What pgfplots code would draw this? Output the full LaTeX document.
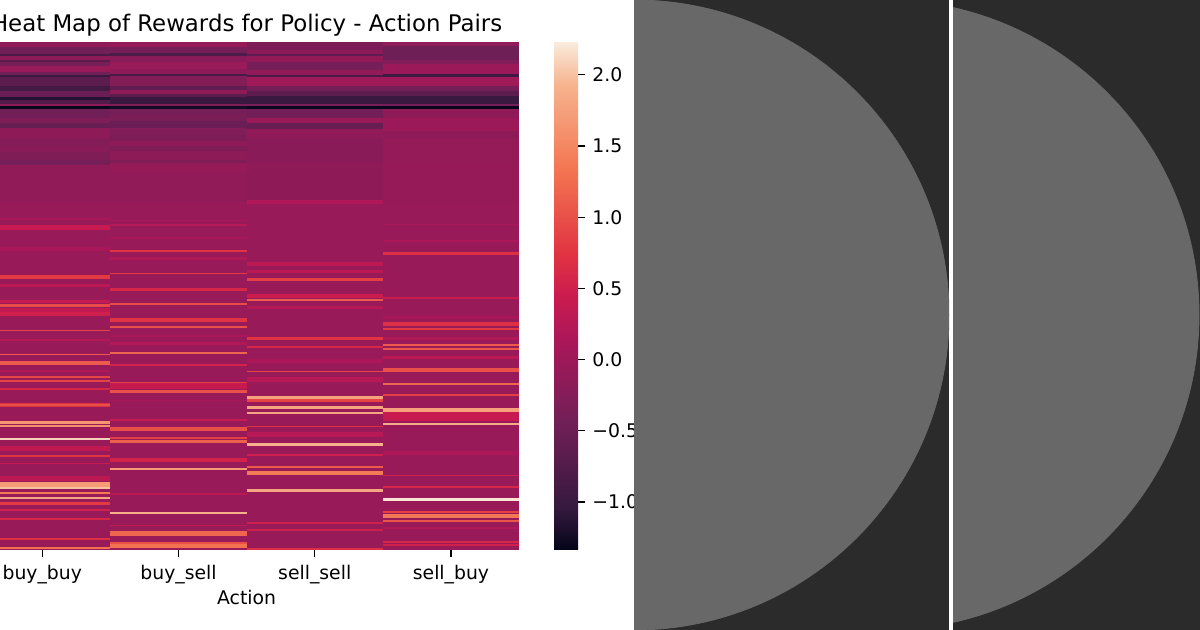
\documentclass[border=0pt]{standalone}
\usepackage{pgfplots}
\usepackage{pgfplotstable}
\usepackage{fontspec}
\setmainfont{DejaVu Sans}
\pgfplotsset{compat=1.18}
\definecolor{panel}{HTML}{2B2B2B}
\definecolor{disc}{HTML}{686868}
\pgfplotsset{
  colormap={rocket}{
    rgb255(0pt)=(3,5,26)
    rgb255(83pt)=(53,25,62)
    rgb255(250pt)=(112,31,87)
    rgb255(417pt)=(173,23,89)
    rgb255(500pt)=(203,27,79)
    rgb255(583pt)=(225,51,66)
    rgb255(750pt)=(243,118,81)
    rgb255(917pt)=(246,180,143)
    rgb255(1000pt)=(250,235,221)
  },
  bands/.style={
    scatter, only marks, mark=-, mark size=34.1pt, scatter src=explicit,
    visualization depends on={(\thisrow{y1}-\thisrow{y0}+0.1)*0.5\as\hh},
    scatter/@pre marker code/.code={%
      \pgfplotscolormapdefinemappedcolor{\pgfplotspointmetatransformed}%
      \scope
      \pgfsetstrokecolor{mapped color}%
      \pgfsetlinewidth{\hh pt}%
    },
    scatter/@post marker code/.code={\endscope}
  },
  panelaxis/.style={
    anchor=south west, scale only axis, hide axis, height=315pt,
    ymin=0, ymax=630
  }
}
\pgfplotstableread{
y0 y1 v
42 550 -0.05
42 47.5 -0.1
47.5 53.6 -0.45
53.6 55.7 -0.8
55.7 60.4 -0.15
60.4 62.4 -0.65
62.4 66.5 -0.4
66.5 72 -0.05
72 75 -0.45
75 77 -1.0
77 86 -0.65
86 91.5 -0.9
91.5 97 -0.5
97 100 -1.15
100 103.6 -0.75
103.6 105.7 -0.15
105.7 109 -1.3
109 118.5 -0.45
118.5 123 -0.3
123 128 -0.55
128 138 -0.15
138 146.5 -0.25
146.5 151.6 -0.2
151.6 160 -0.3
160 165 -0.4
165 202 -0.12
217.6 219.6 0.12
225.3 230.4 0.4
247 250.7 0.12
275 279 0.8
283.8 287 0.3
300 303.4 0.4
304.4 306.8 0.95
308 312 0.35
312 316 0.5
329.7 331.4 0.9
339 341 0.22
353.7 355.4 1.1
361.5 365 1.1
370 372 0.2
375.7 377.8 0.9
380 382 0.9
388 390 0.6
402.8 404 0.7
404 406.5 1.0
406.5 407 0.7
420.7 424 1.65
425 426.8 1.6
437.6 440.2 2.1
446 451 0.35
455 457 0.75
463 464.3 0.4
476.4 480.8 0.3
481.8 486.5 1.7
487.5 489.3 2.0
492 493.7 1.4
496.7 499 1.8
501.8 504.5 0.8
509.5 511 0.5
518 519.7 0.6
538 540 0.7
547.4 549 1.3
}\colA
\pgfplotstableread{
y0 y1 v
42 550 -0.05
42 47.5 -0.08
47.5 53 -0.4
53 55.7 -0.8
55.7 62.4 -0.2
62.4 69 -0.05
69 74 -0.15
74 76 -0.85
76 86 -0.25
86 90 -0.6
90 94 -0.15
94 97 -0.65
97 103.6 -1.0
103.6 105.7 -0.3
105.7 109.4 -1.25
109.4 114.5 -0.4
114.5 121 -0.35
121 128 -0.5
128 135 -0.28
135 141.5 -0.32
141.5 146.5 -0.15
146.5 151.5 -0.3
151.5 160 -0.17
160 163.5 -0.3
163.5 172 -0.07
172 202 -0.12
220 221 0.12
223.6 225.7 0.25
237 239 0.12
249.7 252 0.75
257 260 0.2
272.6 274.3 0.8
288 291 0.6
303 305 0.95
318 321.6 0.75
325.7 328.4 1.0
335 337 0.15
342 344.6 0.2
352 353.7 1.2
364.5 366 0.55
381.8 383.5 0.85
383.5 388.6 0.4
390.3 393 1.0
399.7 401.4 0.15
419 420.7 0.4
427.4 430.5 1.0
437 439 0.85
440.3 443 1.15
458 462 0.55
468 470 1.7
493.3 495.3 0.3
512 514 1.9
524.7 526.4 0.35
530.8 536.2 1.2
541.6 543.7 1.0
544.3 547.7 1.3
}\colB
\pgfplotstableread{
y0 y1 v
42 550 -0.05
42 50 -0.32
50 53.6 -0.18
53.6 56.4 -0.6
56.4 62 -0.1
62 70 -0.4
70 74.6 -0.12
74.6 76.6 -0.85
76.6 86 0.02
86 91 -0.4
91 96 -0.65
96 103.6 -1.0
103.6 105.7 -0.35
105.7 109.4 -1.3
109.4 118.5 -0.42
118.5 123 -0.05
123 128.6 -0.55
128.6 138 -0.12
138 162 -0.2
162 200 -0.15
200 204 0.2
262.5 266 0.3
269.6 273 0.3
278.4 281 0.85
294 298 0.45
299 301 1.1
306.4 308.8 0.25
336.8 339.5 0.75
346.3 348 0.6
358.8 363 0.15
370.6 372.3 0.9
377.4 381.5 0.25
395.7 399 1.75
399 401.5 0.9
406.5 408.5 1.8
412.2 414 1.8
425.7 427.4 0.7
432.5 436.6 0.25
443 445.7 1.9
454.5 456 0.5
466.3 468 1.1
470.7 474.7 1.4
489 491.6 1.8
522 524 0.5
528.8 530.5 0.5
548.4 550 0.7
}\colC
\pgfplotstableread{
y0 y1 v
42 550 -0.05
42 46 -0.12
46 60.4 -0.48
60.4 63.8 -0.28
63.8 74 -0.03
74.5 76.5 -0.95
77 86 0.02
86 91 -0.4
91 96 -0.65
96 103.6 -1.0
103.6 105.7 -0.4
105.7 109.4 -1.3
109.4 118.5 -0.15
118.5 128 -0.03
128 131 0.0
131 138 -0.15
138 162 -0.08
162 202 -0.07
223.6 225 0.1
240.5 242 0.15
252 254.7 0.7
297.3 299 0.45
316.5 319 0.12
321.6 326 0.7
327.7 329.7 0.8
337 340 0.2
344.3 346.3 1.1
347.6 349.7 1.05
356 358.8 0.3
368 371.6 1.0
382.8 385 1.2
394.3 396 0.85
407.8 412.2 1.75
412.2 420.7 0.4
423 425 1.85
451 454.5 0.15
474.7 476.4 0.5
486 487.6 0.6
498.4 501 2.2
511.2 513.2 0.85
514.3 518 1.35
519.7 522 1.05
526.8 529 0.2
540.6 543 0.6
544 545.7 0.5
}\colD
\begin{document}
\begin{tikzpicture}[x=0.5pt,y=0.5pt]
\useasboundingbox (0,0) rectangle (1200,630);
\clip (0,0) rectangle (1200,630);
\begin{axis}[
  at={(-19,80)}, anchor=south west,
  scale only axis, width=272.5pt, height=254pt,
  xmin=-0.5, xmax=3.5, ymin=80, ymax=588,
  xtick={0,1,2,3}, xticklabels={buy\_buy,buy\_sell,sell\_sell,sell\_buy},
  ytick=\empty, xtick pos=lower,
  tick align=outside, major tick length=3.6pt,
  x tick style={black, line width=0.6pt},
  axis line style={draw=none},
  tick label style={font=\fontsize{9.4}{11}\selectfont},
  xticklabel style={yshift=-0.5pt},
  xlabel={Action}, xlabel style={font=\fontsize{9.4}{11}\selectfont, yshift=3.5pt},
  title={Heat Map of Rewards for Policy - Action Pairs},
  title style={font=\fontsize{11.43}{13}\selectfont, yshift=-6.5pt},
  colormap name=rocket,
  point meta min=-1.337, point meta max=2.23,
  colorbar,
  colorbar style={
    at={(parent axis.north east)}, anchor=north west, xshift=9pt,
    width=12pt, axis line style={draw=none},
    ytick={-1,-0.5,0,0.5,1,1.5,2},
    yticklabels={−1.0,−0.5,0.0,0.5,1.0,1.5,2.0},
    ytick pos=upper, yticklabel pos=upper,
    major tick length=3.6pt, tick align=outside,
    y tick style={black, line width=0.6pt},
    tick label style={font=\fontsize{9.4}{11}\selectfont},
  },
]
\addplot[bands] table[x expr=0, y expr={630-(\thisrow{y0}+\thisrow{y1})/2}, meta=v] {\colA};
\addplot[bands] table[x expr=1, y expr={630-(\thisrow{y0}+\thisrow{y1})/2}, meta=v] {\colB};
\addplot[bands] table[x expr=2, y expr={630-(\thisrow{y0}+\thisrow{y1})/2}, meta=v] {\colC};
\addplot[bands] table[x expr=3, y expr={630-(\thisrow{y0}+\thisrow{y1})/2}, meta=v] {\colD};
\end{axis}
\begin{scope}
\clip (634,0) rectangle (949,630);
\begin{axis}[panelaxis, at={(634,0)}, width=157.5pt, xmin=634, xmax=949]
\addplot[fill=panel, draw=none] coordinates {(634,0)(949,0)(949,630)(634,630)} -- cycle;
\addplot[only marks, mark=*, mark size=157.5pt, mark options={fill=disc, draw=disc}] coordinates {(634,315)};
\end{axis}
\end{scope}
\begin{scope}
\clip (953,0) rectangle (1200,630);
\begin{axis}[panelaxis, at={(884,0)}, width=158pt, xmin=884, xmax=1200]
\addplot[fill=panel, draw=none] coordinates {(953,0)(1200,0)(1200,630)(953,630)} -- cycle;
\addplot[only marks, mark=*, mark size=157.5pt, mark options={fill=disc, draw=disc}] coordinates {(884,315)};
\end{axis}
\end{scope}
\end{tikzpicture}
\end{document}
